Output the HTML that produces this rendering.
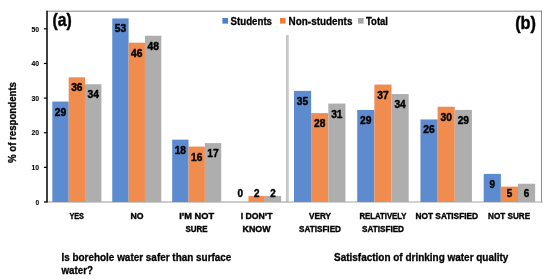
<!DOCTYPE html>
<html lang="en">
<head>
<meta charset="utf-8">
<title>Survey charts</title>
<style>
html,body{margin:0;padding:0;background:#fff;}
svg{display:block;}
</style>
</head>
<body>
<svg width="550" height="280" viewBox="0 0 550 280">
<defs><filter id="soft" x="0" y="0" width="550" height="280" filterUnits="userSpaceOnUse"><feGaussianBlur stdDeviation="0.4"/></filter></defs>
<rect width="550" height="280" fill="#fff"/>
<g filter="url(#soft)">
<g fill="none">
<path d="M47 11.2H542" stroke="#858585" stroke-width="1"/>
<path d="M541.5 10.7V202.5" stroke="#8c8c8c" stroke-width="1"/>
<path d="M47 202H286.8" stroke="#8c8c8c" stroke-width="0.9"/>
<path d="M287 202H542.5" stroke="#a6a6a6" stroke-width="1"/>
<path d="M286.9 35V202.5" stroke="#808080" stroke-width="0.8"/>
<path d="M288.1 35V202.5" stroke="#b8b8b8" stroke-width="1"/>
</g>
<rect x="52.34" y="101.55" width="16.35" height="100.45" fill="#5b8ccf"/>
<rect x="68.69" y="77.31" width="16.35" height="124.69" fill="#f08c4e"/>
<rect x="85.04" y="84.24" width="16.35" height="117.76" fill="#aeaeae"/>
<rect x="112.26" y="18.43" width="16.35" height="183.57" fill="#5b8ccf"/>
<rect x="128.61" y="42.67" width="16.35" height="159.33" fill="#f08c4e"/>
<rect x="144.96" y="35.75" width="16.35" height="166.25" fill="#aeaeae"/>
<rect x="172.19" y="139.65" width="16.35" height="62.35" fill="#5b8ccf"/>
<rect x="188.54" y="146.58" width="16.35" height="55.42" fill="#f08c4e"/>
<rect x="204.89" y="143.12" width="16.35" height="58.88" fill="#aeaeae"/>
<rect x="248.46" y="195.94" width="16.35" height="6.06" fill="#f08c4e"/>
<rect x="264.81" y="195.94" width="16.35" height="6.06" fill="#aeaeae"/>
<path d="M47 10.7V202.5" stroke="#000" stroke-width="1.5" fill="none"/>
<path d="M43.9 202.00H47" stroke="#000" stroke-width="1.2" fill="none"/>
<path d="M43.9 167.36H47" stroke="#000" stroke-width="1.2" fill="none"/>
<path d="M43.9 132.73H47" stroke="#000" stroke-width="1.2" fill="none"/>
<path d="M43.9 98.09H47" stroke="#000" stroke-width="1.2" fill="none"/>
<path d="M43.9 63.46H47" stroke="#000" stroke-width="1.2" fill="none"/>
<path d="M43.9 28.82H47" stroke="#000" stroke-width="1.2" fill="none"/>
<rect x="294.00" y="90.88" width="17.15" height="111.12" fill="#5b8ccf"/>
<rect x="311.15" y="113.10" width="17.15" height="88.90" fill="#f08c4e"/>
<rect x="328.30" y="103.58" width="17.15" height="98.42" fill="#aeaeae"/>
<rect x="357.23" y="109.93" width="17.15" height="92.07" fill="#5b8ccf"/>
<rect x="374.38" y="84.53" width="17.15" height="117.47" fill="#f08c4e"/>
<rect x="391.53" y="94.05" width="17.15" height="107.95" fill="#aeaeae"/>
<rect x="420.46" y="119.45" width="17.15" height="82.55" fill="#5b8ccf"/>
<rect x="437.61" y="106.75" width="17.15" height="95.25" fill="#f08c4e"/>
<rect x="454.76" y="109.93" width="17.15" height="92.07" fill="#aeaeae"/>
<rect x="483.69" y="173.90" width="17.15" height="28.10" fill="#5b8ccf"/>
<rect x="500.84" y="186.60" width="17.15" height="15.40" fill="#f08c4e"/>
<rect x="517.99" y="183.74" width="17.15" height="18.26" fill="#aeaeae"/>
<g font-family="Liberation Sans, Arial, sans-serif" font-weight="bold" fill="#000" stroke="#000" stroke-width="0.3" stroke-linejoin="round">
<text x="39.0" y="204.70" font-size="7.4" text-anchor="end" textLength="3.6" lengthAdjust="spacingAndGlyphs" stroke-width="0.1">0</text>
<text x="39.0" y="170.06" font-size="7.4" text-anchor="end" textLength="7.6" lengthAdjust="spacingAndGlyphs" stroke-width="0.1">10</text>
<text x="39.0" y="135.43" font-size="7.4" text-anchor="end" textLength="7.6" lengthAdjust="spacingAndGlyphs" stroke-width="0.1">20</text>
<text x="39.0" y="100.79" font-size="7.4" text-anchor="end" textLength="7.6" lengthAdjust="spacingAndGlyphs" stroke-width="0.1">30</text>
<text x="39.0" y="66.16" font-size="7.4" text-anchor="end" textLength="7.6" lengthAdjust="spacingAndGlyphs" stroke-width="0.1">40</text>
<text x="39.0" y="31.52" font-size="7.4" text-anchor="end" textLength="7.6" lengthAdjust="spacingAndGlyphs" stroke-width="0.1">50</text>
<text transform="translate(15.6 163) rotate(-90)" font-size="10" textLength="81" lengthAdjust="spacingAndGlyphs">% of respondents</text>
<text x="52.6" y="26.3" font-size="17.8" text-anchor="start" textLength="19.2" lengthAdjust="spacingAndGlyphs" stroke-width="0.45">(a)</text>
<text x="515.2" y="29.1" font-size="17.8" text-anchor="start" textLength="20.8" lengthAdjust="spacingAndGlyphs" stroke-width="0.45">(b)</text>
<text x="60.51" y="115.55" font-size="11.2" text-anchor="middle" textLength="11.4" lengthAdjust="spacingAndGlyphs" stroke-width="0.45">29</text>
<text x="76.86" y="91.31" font-size="11.2" text-anchor="middle" textLength="11.4" lengthAdjust="spacingAndGlyphs" stroke-width="0.45">36</text>
<text x="93.21" y="98.24" font-size="11.2" text-anchor="middle" textLength="11.4" lengthAdjust="spacingAndGlyphs" stroke-width="0.45">34</text>
<text x="120.44" y="32.43" font-size="11.2" text-anchor="middle" textLength="11.4" lengthAdjust="spacingAndGlyphs" stroke-width="0.45">53</text>
<text x="136.79" y="56.67" font-size="11.2" text-anchor="middle" textLength="11.4" lengthAdjust="spacingAndGlyphs" stroke-width="0.45">46</text>
<text x="153.14" y="49.75" font-size="11.2" text-anchor="middle" textLength="11.4" lengthAdjust="spacingAndGlyphs" stroke-width="0.45">48</text>
<text x="180.36" y="153.65" font-size="11.2" text-anchor="middle" textLength="11.4" lengthAdjust="spacingAndGlyphs" stroke-width="0.45">18</text>
<text x="196.71" y="160.58" font-size="11.2" text-anchor="middle" textLength="11.4" lengthAdjust="spacingAndGlyphs" stroke-width="0.45">16</text>
<text x="213.06" y="157.12" font-size="11.2" text-anchor="middle" textLength="11.4" lengthAdjust="spacingAndGlyphs" stroke-width="0.45">17</text>
<text x="240.29" y="197.00" font-size="11.2" text-anchor="middle" textLength="5.5" lengthAdjust="spacingAndGlyphs" stroke-width="0.45">0</text>
<text x="256.64" y="197.00" font-size="11.2" text-anchor="middle" textLength="5.5" lengthAdjust="spacingAndGlyphs" stroke-width="0.45">2</text>
<text x="272.99" y="197.00" font-size="11.2" text-anchor="middle" textLength="5.5" lengthAdjust="spacingAndGlyphs" stroke-width="0.45">2</text>
<text x="302.57" y="104.88" font-size="11.2" text-anchor="middle" textLength="11.4" lengthAdjust="spacingAndGlyphs" stroke-width="0.45">35</text>
<text x="319.72" y="127.10" font-size="11.2" text-anchor="middle" textLength="11.4" lengthAdjust="spacingAndGlyphs" stroke-width="0.45">28</text>
<text x="336.88" y="117.58" font-size="11.2" text-anchor="middle" textLength="11.4" lengthAdjust="spacingAndGlyphs" stroke-width="0.45">31</text>
<text x="365.81" y="123.93" font-size="11.2" text-anchor="middle" textLength="11.4" lengthAdjust="spacingAndGlyphs" stroke-width="0.45">29</text>
<text x="382.95" y="98.53" font-size="11.2" text-anchor="middle" textLength="11.4" lengthAdjust="spacingAndGlyphs" stroke-width="0.45">37</text>
<text x="400.11" y="108.05" font-size="11.2" text-anchor="middle" textLength="11.4" lengthAdjust="spacingAndGlyphs" stroke-width="0.45">34</text>
<text x="429.03" y="133.45" font-size="11.2" text-anchor="middle" textLength="11.4" lengthAdjust="spacingAndGlyphs" stroke-width="0.45">26</text>
<text x="446.18" y="120.75" font-size="11.2" text-anchor="middle" textLength="11.4" lengthAdjust="spacingAndGlyphs" stroke-width="0.45">30</text>
<text x="463.33" y="123.93" font-size="11.2" text-anchor="middle" textLength="11.4" lengthAdjust="spacingAndGlyphs" stroke-width="0.45">29</text>
<text x="492.26" y="187.90" font-size="11.2" text-anchor="middle" textLength="5.5" lengthAdjust="spacingAndGlyphs" stroke-width="0.45">9</text>
<text x="509.41" y="196.90" font-size="11.2" text-anchor="middle" textLength="5.5" lengthAdjust="spacingAndGlyphs" stroke-width="0.45">5</text>
<text x="526.57" y="196.90" font-size="11.2" text-anchor="middle" textLength="5.5" lengthAdjust="spacingAndGlyphs" stroke-width="0.45">6</text>
<rect x="222.4" y="18" width="5.6" height="5.6" fill="#4a7fcc" stroke="none"/>
<rect x="280" y="18" width="5.6" height="5.6" fill="#ee7f3a" stroke="none"/>
<rect x="358" y="18" width="5.6" height="5.6" fill="#a6a6a6" stroke="none"/>
<text x="230.6" y="25" font-size="10.6" text-anchor="start" textLength="41.4" lengthAdjust="spacingAndGlyphs">Students</text>
<text x="288.6" y="25" font-size="10.6" text-anchor="start" textLength="63.8" lengthAdjust="spacingAndGlyphs">Non-students</text>
<text x="366" y="25" font-size="10.6" text-anchor="start" textLength="22" lengthAdjust="spacingAndGlyphs">Total</text>
<text x="76.70" y="219.40" font-size="9.2" text-anchor="middle" textLength="14.6" lengthAdjust="spacingAndGlyphs" stroke-width="0.4">YES</text>
<text x="136.90" y="219.40" font-size="9.2" text-anchor="middle" textLength="13" lengthAdjust="spacingAndGlyphs" stroke-width="0.4">NO</text>
<text x="196.60" y="219.40" font-size="9.2" text-anchor="middle" textLength="34.9" lengthAdjust="spacingAndGlyphs" stroke-width="0.4">I’M NOT</text>
<text x="196.60" y="231.50" font-size="9.2" text-anchor="middle" textLength="22.2" lengthAdjust="spacingAndGlyphs" stroke-width="0.4">SURE</text>
<text x="256.60" y="219.40" font-size="9.2" text-anchor="middle" textLength="31.8" lengthAdjust="spacingAndGlyphs" stroke-width="0.4">I DON’T</text>
<text x="256.60" y="231.50" font-size="9.2" text-anchor="middle" textLength="28" lengthAdjust="spacingAndGlyphs" stroke-width="0.4">KNOW</text>
<text x="320.00" y="219.40" font-size="9.2" text-anchor="middle" textLength="22.1" lengthAdjust="spacingAndGlyphs" stroke-width="0.4">VERY</text>
<text x="320.00" y="231.50" font-size="9.2" text-anchor="middle" textLength="41.9" lengthAdjust="spacingAndGlyphs" stroke-width="0.4">SATISFIED</text>
<text x="383.00" y="219.40" font-size="9.2" text-anchor="middle" textLength="47.1" lengthAdjust="spacingAndGlyphs" stroke-width="0.4">RELATIVELY</text>
<text x="383.00" y="231.50" font-size="9.2" text-anchor="middle" textLength="42" lengthAdjust="spacingAndGlyphs" stroke-width="0.4">SATISFIED</text>
<text x="446.80" y="219.40" font-size="9.2" text-anchor="middle" textLength="62.4" lengthAdjust="spacingAndGlyphs" stroke-width="0.4">NOT SATISFIED</text>
<text x="509.10" y="219.40" font-size="9.2" text-anchor="middle" textLength="42" lengthAdjust="spacingAndGlyphs" stroke-width="0.4">NOT SURE</text>
<text x="61.4" y="260.6" font-size="10.6" text-anchor="start" textLength="170" lengthAdjust="spacingAndGlyphs">Is borehole water safer than surface</text>
<text x="61.4" y="274" font-size="10.6" text-anchor="start" textLength="31.6" lengthAdjust="spacingAndGlyphs">water?</text>
<text x="334" y="260.6" font-size="10.6" text-anchor="start" textLength="174.4" lengthAdjust="spacingAndGlyphs">Satisfaction of drinking water quality</text>
</g>
</g>
</svg>
</body>
</html>
